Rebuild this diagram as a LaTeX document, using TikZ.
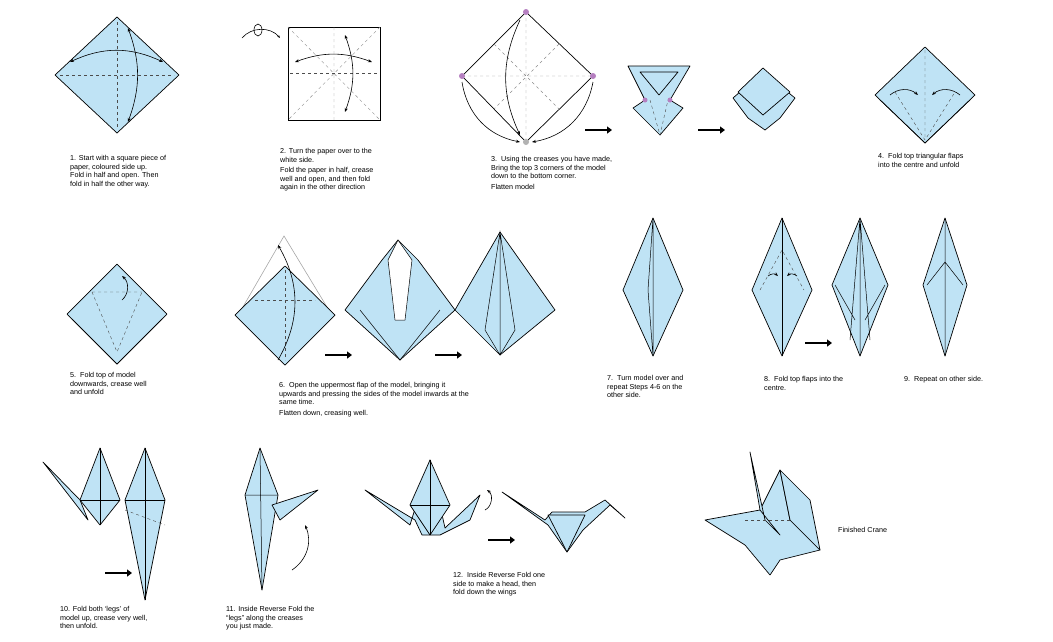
\documentclass[tikz,border=0pt]{standalone}
\usepackage{fontspec}
\setmainfont{Liberation Sans}
\usetikzlibrary{arrows.meta}
\definecolor{paper}{HTML}{BFE3F5}
\definecolor{pdot}{HTML}{B57FC0}
\begin{document}
\begin{tikzpicture}[x=1pt,y=-1pt,
  fold/.style={draw=black,fill=paper,line width=0.7pt,line join=round},
  crease/.style={draw=black!70,dashed,line width=0.4pt},
  captext/.style={font=\fontsize{7.2}{8.6}\selectfont,anchor=north west,align=left,inner sep=0pt},
  bigarr/.style={-{Triangle[length=5pt,width=7pt]},line width=2.2pt},
  farr/.style={-{Stealth[length=4pt]},line width=0.6pt}]
\useasboundingbox (0,0) rectangle (1053,641);
% Step 1
\draw[fold] (117,17) -- (179,75) -- (117,133) -- (55,75) -- cycle;
\draw[crease] (60,75) -- (174,75) (117,22) -- (117,128);
\draw[farr,{Stealth[length=4pt]}-{Stealth[length=4pt]}] (70,62) to[bend left=25] (163,62);
\draw[farr,{Stealth[length=4pt]}-{Stealth[length=4pt]}] (128,28) to[bend left=20] (128,122);
\node[captext] (t1) at (70,155) {1. Start with a square piece of\\paper, coloured side up.\\Fold in half and open. Then\\fold in half the other way.};
% Step 2
\draw[line width=0.7pt] (288,27) rectangle (380,120);
\draw[crease,black!45] (288,27) -- (380,120) (380,27) -- (288,120) (334,27) -- (334,120);
\draw[crease] (290,73) -- (378,73);
\draw[farr,{Stealth[length=4pt]}-{Stealth[length=4pt]}] (295,62) to[bend left=20] (372,62);
\draw[farr,{Stealth[length=4pt]}-{Stealth[length=4pt]}] (345,35) to[bend left=20] (345,112);
\draw[line width=0.6pt,-{Stealth[length=3pt]}] (242,38) to[bend left=50] (280,38);
\draw[line width=0.6pt] (258,30) ellipse (4 and 6);
\node[captext] (t2) at (280,148) {2. Turn the paper over to the\\white side.\\[2pt]Fold the paper in half, crease\\well and open, and then fold\\again in the other direction};
% Step 3
\draw[line width=0.7pt] (526,12) -- (593,76) -- (526,142) -- (462,76) -- cycle;
\draw[crease,black!45] (526,12) -- (526,142) (462,76) -- (593,76) (494,44) -- (559,109) (559,44) -- (494,109);
\draw[farr] (520,20) to[bend right=25] (520,135);
\draw[farr] (462,82) to[bend right=35] (520,142);
\draw[farr] (593,82) to[bend left=35] (532,142);
\fill[pdot] (526,12) circle (3) (462,76) circle (3) (593,76) circle (3);
\fill[black!30] (526,142) circle (3);
\node[captext] (t3) at (491,156) {3.\ \ Using the creases you have made,\\Bring the top 3 corners of the model\\down to the bottom corner.\\[2pt]Flatten model};
\draw[bigarr] (585,130) -- (612,130);
\draw[bigarr] (698,130) -- (725,130);
\draw[fold] (628,66) -- (690,66) -- (670,100) -- (683,108) -- (660,135) -- (633,108) -- (645,100) -- cycle;
\draw[fold] (640,72) -- (678,72) -- (659,95) -- cycle;
\draw[crease] (650,100) -- (660,135) -- (668,100);
\fill[pdot] (645,100) circle (2.5) (670,100) circle (2.5);
\draw[fold] (733,98) -- (763,72) -- (795,98) -- (780,118) -- (765,130) -- (748,118) -- cycle;
\draw[fold] (738,92) -- (763,68) -- (790,92) -- (763,115) -- cycle;
% Step 4
\draw[fold] (925,47) -- (975,95) -- (925,143) -- (875,95) -- cycle;
\draw[line width=0.5pt] (880,100) -- (925,143) -- (970,100);
\draw[crease] (925,50) -- (925,140) (895,92) -- (925,140) -- (955,92);
\draw[farr] (890,95) to[bend left=40] (918,95);
\draw[farr] (960,95) to[bend right=40] (932,95);
\node[captext] (t4) at (878,153) {4.\ \ Fold top triangular flaps\\into the centre and unfold};
% Step 5
\draw[fold] (117,264) -- (167,314) -- (117,364) -- (67,314) -- cycle;
\draw[line width=0.5pt] (72,319) -- (117,364) -- (162,319);
\draw[crease] (92,292) -- (142,292) (92,292) -- (117,352) -- (142,292);
\draw[farr] (122,300) to[bend right=50] (122,276);
\node[captext] (t5) at (70,372) {5.\ \ Fold top of model\\downwards, crease well\\and unfold};
% Step 6
\draw[black!35,line width=0.6pt] (240,312) -- (284,236) -- (330,312);
\draw[fold] (285,266) -- (335,315) -- (285,365) -- (235,315) -- cycle;
\draw[crease] (285,270) -- (285,360) (255,300) -- (315,300);
\draw[farr] (278,360) to[bend right=30] (278,245);
\draw[fold] (398,240) -- (418,260) -- (455,310) -- (400,360) -- (345,310) -- (382,260) -- cycle;
\draw[line width=0.5pt,fill=white] (388,260) -- (398,240) -- (412,260) -- (405,320) -- (395,320) -- cycle;
\draw[line width=0.5pt] (360,310) -- (400,360) -- (440,310);
\draw[fold] (500,232) -- (555,310) -- (500,355) -- (455,310) -- cycle;
\draw[line width=0.5pt] (500,232) -- (485,330) -- (500,355) -- (515,330) -- cycle (500,232) -- (500,355);
\draw[bigarr] (325,355) -- (352,355);
\draw[bigarr] (435,355) -- (462,355);
\node[captext] (t6) at (279,382) {6.\ \ Open the uppermost flap of the model, bringing it\\upwards and pressing the sides of the model inwards at the\\same time.\\[2pt]Flatten down, creasing well.};
% Step 7
\draw[fold] (653,218) -- (683,290) -- (653,356) -- (623,290) -- cycle;
\draw[line width=0.5pt] (653,218) -- (653,356) (653,218) -- (648,290) -- (653,356);
\node[captext] (t7) at (607,375) {7.\ \ Turn model over and\\repeat Steps 4-6 on the\\other side.};
% Step 8
\draw[fold] (782,218) -- (812,290) -- (782,356) -- (752,290) -- cycle;
\draw[line width=0.5pt] (782,218) -- (782,356);
\draw[crease] (760,290) -- (782,250) -- (804,290);
\draw[farr] (768,276) to[bend left=40] (778,276);
\draw[farr] (797,276) to[bend right=40] (787,276);
\draw[fold] (860,218) -- (888,285) -- (860,356) -- (832,285) -- cycle;
\draw[line width=0.5pt] (860,218) -- (860,356) (835,285) -- (855,320) (885,285) -- (865,320) (860,218) -- (850,340) (860,218) -- (870,340);
\draw[bigarr] (805,343) -- (832,343);
\node[captext] (t8) at (764,376) {8.\ \ Fold top flaps into the\\centre.};
% Step 9
\draw[fold] (945,218) -- (967,285) -- (945,356) -- (923,285) -- cycle;
\draw[line width=0.5pt] (945,218) -- (945,356) (927,285) -- (945,262) -- (963,285);
\node[captext] (t9) at (904,376) {9.\ \ Repeat on other side.};
% Step 10
\draw[fold] (100,448) -- (120,500) -- (100,525) -- (80,500) -- cycle;
\draw[fold] (80,500) -- (43,462) -- (88,520) -- cycle;
\draw[line width=0.5pt] (100,448) -- (100,525) (80,500) -- (120,500);
\draw[fold] (145,448) -- (165,500) -- (145,600) -- (125,500) -- cycle;
\draw[line width=0.5pt] (145,448) -- (145,600) (125,500) -- (165,500);
\draw[crease] (125,510) -- (165,525);
\draw[bigarr] (105,573) -- (132,573);
\node[captext] (t10) at (60,606) {10. Fold both `legs' of\\model up, crease very well,\\then unfold.};
% Step 11
\draw[fold] (260,448) -- (278,495) -- (262,590) -- (245,495) -- cycle;
\draw[fold] (272,505) -- (318,490) -- (280,520) -- cycle;
\draw[line width=0.5pt] (260,448) -- (262,590) (245,495) -- (278,495);
\draw[farr] (292,570) to[bend right=40] (305,525);
\node[captext] (t11) at (226,606) {11. Inside Reverse Fold the\\``legs'' along the creases\\you just made.};
% Step 12
\draw[fold] (365,490) -- (415,520) -- (422,535) -- (440,535) -- (470,520) -- (480,495) -- (445,528) -- (430,460) -- (410,525) -- cycle;
\draw[fold] (430,460) -- (450,505) -- (430,535) -- (410,505) -- cycle;
\draw[line width=0.5pt] (430,460) -- (430,535) (410,505) -- (450,505);
\draw[farr] (485,510) to[bend right=60] (487,490);
\draw[fold] (502,492) -- (545,520) -- (552,512) -- (585,512) -- (605,500) -- (625,518) -- (610,505) -- (583,530) -- (567,552) -- (548,525) -- cycle;
\draw[fold] (548,515) -- (585,515) -- (567,552) -- cycle;
\draw[bigarr] (488,540) -- (515,540);
\node[captext] (t12) at (453,572) {12.\ \ Inside Reverse Fold one\\side to make a head, then\\fold down the wings};
% Finished crane
\draw[fold] (705,520) -- (760,510) -- (780,470) -- (790,520) -- (820,550) -- (780,560) -- (770,575) -- (745,545) -- cycle;
\draw[fold] (750,452) -- (765,520) -- (780,535) -- (760,510) -- cycle;
\draw[fold] (780,470) -- (810,500) -- (820,550) -- (790,520) -- cycle;
\draw[crease] (745,520) -- (790,520);
\node[captext] (tc) at (838,527) {Finished Crane};
\end{tikzpicture}
\end{document}
